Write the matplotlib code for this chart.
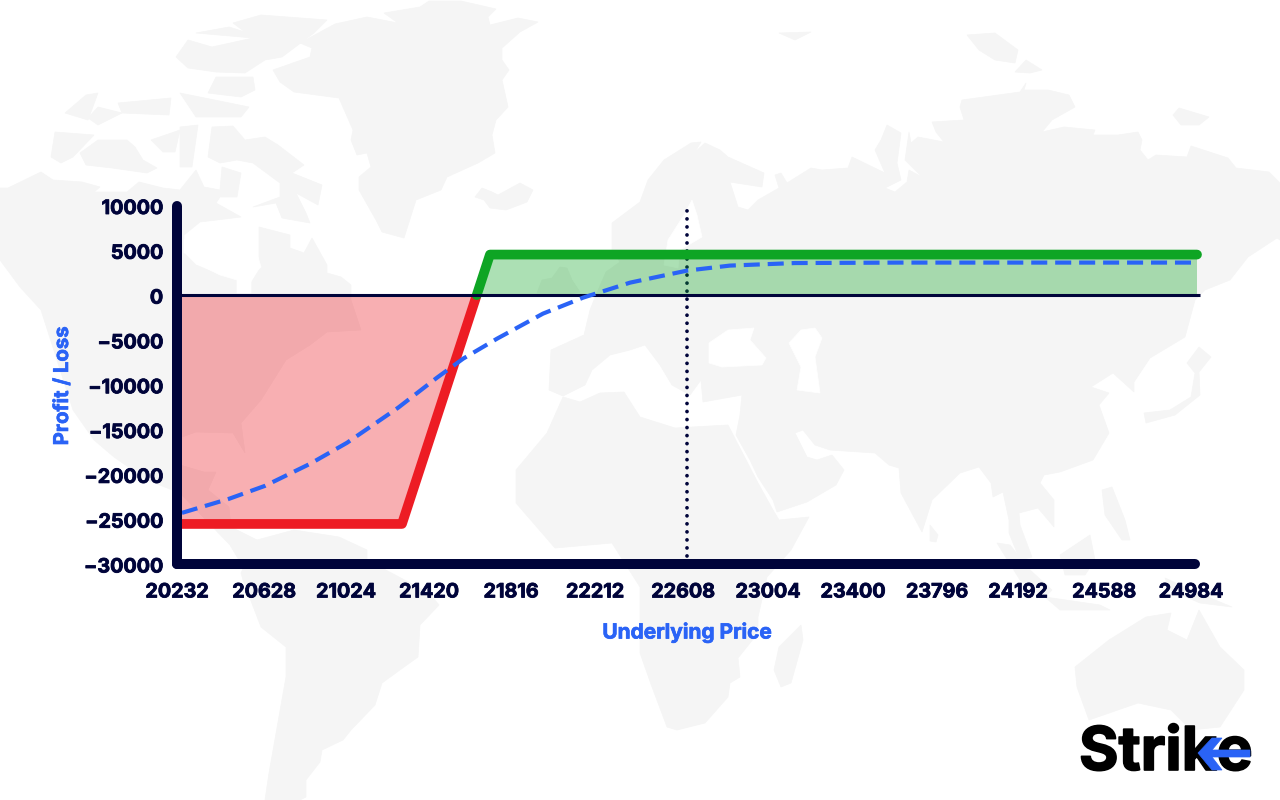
import numpy as np
import matplotlib
matplotlib.use("Agg")
import matplotlib.pyplot as plt
import matplotlib.patheffects as pe
from matplotlib.patches import Polygon
from matplotlib.transforms import ScaledTranslation

plt.rcParams["font.family"] = ["Inter", "DejaVu Sans"]

NAVY = "#00043a"
BLUE = "#2a63f6"
RED = "#ed1c24"
GREEN = "#0ea524"
MAP_GREY = "#f5f5f5"

# payoff at expiry
price = [20232, 21280, 21690, 24984]
pnl_expiry = [-25530, -25530, 4525, 4525]

# today's curve (dashed)
price_today = [20255, 20474, 20642, 20852, 21024, 21262, 21443, 21565, 21723,
               21937, 22124, 22343, 22608, 22808, 23111, 23600, 24984]
pnl_today = [-24295, -22730, -21280, -18820, -16475, -12565, -9215, -7090, -4860,
             -2065, -280, 1395, 2735, 3295, 3580, 3630, 3630]

spot = 22608

x_ticks = [20232, 20628, 21024, 21420, 21816, 22212, 22608,
           23004, 23400, 23796, 24192, 24588, 24984]
y_ticks = [-30000, -25000, -20000, -15000, -10000, -5000, 0, 5000, 10000]
# the labels in the picture sit a little off their ticks (pixels)
x_label_nudge = [0, 2, -1, -3, -6, -7, -4, -4, -4, -5, -9, -8, -6]

# background world map, traced in image pixels (decoration only)
LAND = [
    # greenland
    [(273,70),(310,57),(312,48),(300,43),(335,24),(367,17),(398,23),(384,13),(420,7),(429,1),(461,1),(496,9),
     (488,17),(490,25),(518,18),(538,22),(520,32),(502,48),(502,60),(509,70),(502,80),(508,107),(496,120),
     (492,135),(495,153),(478,163),(447,177),(441,190),(416,200),(404,238),(382,232),(376,220),(359,190),
     (359,177),(371,167),(367,153),(357,155),(351,140),(353,130),(339,98),(294,92),(280,82)],
    # iceland
    [(475,197),(482,188),(492,192),(498,195),(520,183),(533,190),(527,202),(506,210),(490,208),(484,200)],
    # north america
    [(0,188),(8,188),(41,172),(53,180),(82,182),(100,187),(94,192),(127,192),(139,182),(163,188),(180,190),
     (196,170),(204,187),(220,190),(222,167),(241,173),(237,197),(220,197),(216,203),(241,217),(200,222),
     (184,235),(184,253),(196,265),(220,275),(237,280),(237,293),(251,293),(251,283),(259,270),(259,227),
     (290,235),(290,248),(304,253),(312,238),(327,265),(327,273),(341,277),(351,285),(351,300),(361,330),
     (327,332),(310,345),(286,360),(261,400),(241,423),(245,453),(233,433),(196,432),(182,437),(180,465),
     (204,472),(216,472),(208,490),(229,507),(231,527),(257,540),(245,570),(230,545),(180,493),(147,480),
     (114,457),(94,440),(73,410),(41,310),(20,287),(0,260)],
    # south america
    [(257,540),(294,530),(339,537),(367,550),(367,560),(429,593),(439,605),(420,625),(418,657),(404,667),
     (382,683),(375,705),(351,730),(343,740),(322,750),(320,762),(306,780),(306,797),(300,800),(265,800),
     (269,773),(286,677),(286,647),(261,627),(243,580),(241,573)],
    # africa
    [(563,397),(580,402),(600,393),(624,392),(640,417),(675,428),(728,425),(758,483),(773,510),(779,520),
     (809,517),(791,550),(767,577),(758,617),(758,633),(738,658),(740,677),(730,683),(728,697),(705,723),
     (677,730),(667,727),(652,687),(640,653),(640,587),(612,543),(555,548),(516,503),(516,470),(547,433)],
    # eurasia
    [(1280,183),(1269,172),(1236,168),(1228,158),(1191,146),(1187,157),(1156,155),(1148,160),(1140,150),
     (1142,140),(1138,132),(1118,135),(1093,135),(1095,130),(1064,127),(1042,132),(1052,120),(1075,107),
     (1069,95),(1048,90),(1024,90),(1026,83),(1020,92),(962,100),(960,107),(964,120),(932,122),(936,132),
     (944,142),(918,137),(911,143),(909,132),(905,160),(922,177),(909,170),(907,182),(895,192),(885,188),
     (901,180),(897,163),(901,133),(887,125),(881,140),(875,150),(885,173),(852,157),(848,168),(822,170),
     (811,168),(787,183),(781,173),(775,175),(779,188),(758,200),(748,210),(738,207),(730,182),(762,187),
     (764,173),(746,165),(728,157),(720,150),(705,143),(695,152),(701,142),(691,143),(664,160),(648,180),
     (640,202),(612,223),(612,250),(620,262),(606,272),(596,295),(590,310),(584,335),(551,350),(549,390),
     (563,396),(585,385),(592,370),(610,355),(630,350),(645,345),(660,365),(672,385),(690,395),(701,380),
     (703,402),(742,395),(740,415),(736,435),(750,460),(758,477),(773,500),(777,512),(807,502),(836,485),
     (844,470),(832,455),(817,460),(807,457),(795,433),(803,430),(815,445),(830,450),(875,453),(889,465),
     (899,468),(901,493),(922,532),(932,500),(960,473),(979,467),(991,483),(993,497),(1003,492),(1009,520),
     (1009,533),(1020,560),(1032,557),(1020,525),(1019,513),(1038,508),(1054,527),(1054,500),(1040,483),
     (1044,475),(1060,472),(1093,460),(1109,433),(1099,405),(1109,393),(1091,387),(1113,373),(1134,392),
     (1134,382),(1150,358),(1185,337),(1195,300),(1205,290),(1230,280),(1248,257),(1277,238),(1280,240)],
    # uk / ireland
    [(537,293),(542,280),(552,278),(560,267),(567,268),(572,280),(580,292),(570,294)],
    # madagascar
    [(801,625),(803,640),(791,683),(781,687),(774,670),(779,647)],
    # australia
    [(1075,667),(1109,640),(1146,617),(1171,613),(1167,630),(1187,640),(1199,610),(1220,647),(1244,670),
     (1244,690),(1220,727),(1191,730),(1171,710),(1138,703),(1089,720),(1077,687)],
    # japan
    [(1146,423),(1144,413),(1170,410),(1191,397),(1195,373),(1187,363),(1199,347),(1211,357),(1199,372),
     (1200,395),(1175,415)],
    # sri lanka, sumatra, borneo, philippines, java, new guinea
    [(930,525),(938,535),(936,542),(930,541)],
    [(997,543),(1010,545),(1030,570),(1052,590),(1045,597),(1020,580)],
    [(1060,555),(1090,535),(1095,560),(1085,575),(1065,575)],
    [(1102,490),(1112,487),(1125,520),(1130,540),(1122,540),(1105,515)],
    [(1045,597),(1100,605),(1110,610),(1060,610)],
    [(1165,578),(1191,590),(1232,607),(1200,603),(1170,590)],
    # canadian arctic islands
    [(208,157),(212,127),(233,126),(245,140),(265,137),(278,145),(304,165),(292,173),(322,185),(318,205),
     (296,193),(306,213),(310,223),(282,218),(276,203),(253,207),(280,197),(280,183),(253,163),(237,160),(220,163)],
    [(80,153),(98,140),(127,140),(135,147),(143,160),(157,168),(147,173),(112,168),(86,165)],
    [(55,132),(94,135),(73,157),(61,163),(51,157)],
    [(196,33),(229,27),(245,32),(233,23),(261,15),(327,20),(314,33),(298,45),(282,57),(265,60),(245,73),
     (216,72),(188,68),(176,57),(188,40),(212,47),(253,38)],
    [(65,113),(86,95),(98,93),(88,120)],
    [(88,118),(98,107),(122,113),(98,125)],
    [(196,117),(180,93),(249,107),(241,117)],
    [(208,93),(216,77),(253,77),(255,90),(241,97)],
    [(118,103),(171,98),(169,115),(122,113)],
    [(151,140),(180,130),(175,152),(163,152)],
    [(180,127),(198,125),(192,167),(180,167)],
    # russian arctic islands
    [(967,35),(995,33),(1018,50),(1015,63),(995,60),(979,50)],
    [(1015,72),(1026,60),(1042,70),(1030,73)],
    [(1173,115),(1179,108),(1209,117),(1199,125),(1181,125)],
    [(779,33),(811,32),(795,40)],
]
SEAS = [
    # black sea
    [(709,343),(728,330),(754,328),(750,340),(766,358),(762,365),(722,367),(709,363)],
    # caspian
    [(789,343),(801,330),(815,328),(822,338),(815,357),(820,393),(797,390),(801,367)],
    # baltic
    [(664,265),(668,240),(684,215),(692,200),(697,215),(702,237),(680,250),(678,268)],
    # hudson bay
    [(184,240),(200,223),(229,230),(255,227),(255,247),(261,267),(251,277),(251,293),(237,293),(237,280),(220,275),(200,265),(192,253),(184,253)],
]

fig = plt.figure(figsize=(12.8, 8), dpi=100, facecolor="white")

# map layer in pixel coordinates
bg = fig.add_axes([0, 0, 1, 1], zorder=0)
bg.set_xlim(0, 1280)
bg.set_ylim(800, 0)
bg.axis("off")
for poly in LAND:
    bg.add_patch(Polygon(poly, closed=True, fc=MAP_GREY, ec=MAP_GREY, lw=0.5))
for poly in SEAS:
    bg.add_patch(Polygon(poly, closed=True, fc="white", ec="white", lw=0.5))

# chart axes: x 177..1197 px, y 205.5..564 px
ax = fig.add_axes([177 / 1280, 1 - 564 / 800, 1020 / 1280, 358.5 / 800], zorder=1)
ax.patch.set_alpha(0)
ax.set_xlim(20232, 24984)
ax.set_ylim(-30000, 10000)

price_arr = np.array(price, dtype=float)
pnl_arr = np.array(pnl_expiry, dtype=float)
ax.fill_between(price_arr, 0, pnl_arr, where=pnl_arr <= 0, interpolate=True,
                color=RED, alpha=0.35, lw=0, zorder=2)
ax.fill_between(price_arr, 0, pnl_arr, where=pnl_arr >= 0, interpolate=True,
                color=GREEN, alpha=0.34, lw=0, zorder=2)

ax.plot([spot, spot], [-30000, 10000], color=NAVY, lw=2.7, clip_on=False, zorder=1,
        linestyle=(0, (0.01, 2.13)), dash_capstyle="round")

# split the payoff where it crosses zero
x_zero = np.interp(0, pnl_arr[1:3], price_arr[1:3])
ax.plot([price[0], price[1], x_zero], [pnl_expiry[0], pnl_expiry[1], 0], color=RED, lw=7,
        solid_capstyle="butt", solid_joinstyle="round", clip_on=False, zorder=3)
ax.plot([x_zero, price[2], price[3]], [0, pnl_expiry[2], pnl_expiry[3]], color=GREEN, lw=7,
        solid_capstyle="round", solid_joinstyle="round", clip_on=False, zorder=3)

ax.plot([20232, 24984 + 14], [0, 0], color=NAVY, lw=2.2, solid_capstyle="butt",
        clip_on=False, zorder=4)

ax.plot(price_today, pnl_today, color=BLUE, lw=3, linestyle=(0, (3.85, 1.9)),
        dash_capstyle="butt", clip_on=False, zorder=5)

for side in ("top", "right"):
    ax.spines[side].set_visible(False)
for side in ("left", "bottom"):
    ax.spines[side].set_linewidth(7.2)
    ax.spines[side].set_color(NAVY)
    ax.spines[side].set_capstyle("round")
    ax.spines[side].set_zorder(6)
ax.spines["bottom"].set_bounds(20232, 24975)
ax.spines["left"].set_bounds(-30000, 9900)

ax.set_xticks(x_ticks)
ax.set_xticklabels([str(t) for t in x_ticks])
ax.set_yticks(y_ticks)
ax.set_yticklabels([str(t).replace("-", "\u2212") for t in y_ticks])
ax.tick_params(axis="both", length=0, labelcolor=NAVY, labelsize=14.2)
ax.tick_params(axis="x", pad=14)
ax.tick_params(axis="y", pad=10)

heavy = [pe.withStroke(linewidth=0.6, foreground=NAVY)]
for lab in ax.get_xticklabels() + ax.get_yticklabels():
    lab.set_fontweight("bold")
    lab.set_path_effects(heavy)
for lab, dx in zip(ax.get_xticklabels(), x_label_nudge):
    lab.set_transform(lab.get_transform() + ScaledTranslation(dx / 100, 0, fig.dpi_scale_trans))
for lab in ax.get_yticklabels():
    lab.set_transform(lab.get_transform() + ScaledTranslation(0, -1.5 / 100, fig.dpi_scale_trans))

heavy_blue = [pe.withStroke(linewidth=0.5, foreground=BLUE)]
fig.text(687 / 1280, 1 - 632 / 800, "Underlying Price", color=BLUE, fontsize=15,
         fontweight="bold", ha="center", va="center", path_effects=heavy_blue)
fig.text(63 / 1280, 1 - 386 / 800, "Profit / Loss", color=BLUE, fontsize=14.6,
         fontweight="bold", ha="center", va="center", rotation=90, path_effects=heavy_blue)

# logo
bg.text(1079, 770, "Strike", color="black", fontsize=43.5, fontweight="bold",
        ha="left", va="baseline", path_effects=[pe.withStroke(linewidth=1.2, foreground="black")])
bg.add_patch(Polygon([(1198, 753), (1212, 738), (1222, 738), (1212, 750), (1250, 750),
                      (1250, 757), (1212, 757), (1222, 770), (1212, 770)],
                     closed=True, fc=BLUE, ec=BLUE, lw=0.5, zorder=5))

fig.savefig("out.png", dpi=100)
